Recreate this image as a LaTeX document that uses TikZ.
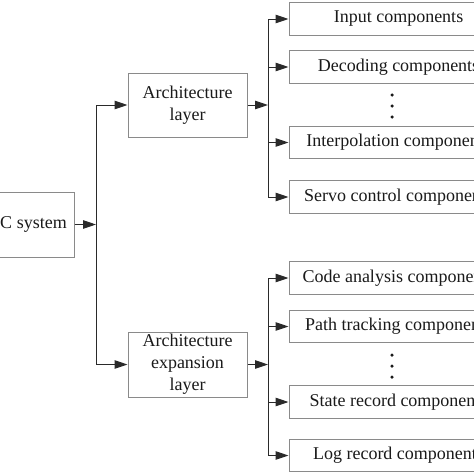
\documentclass[tikz,border=0pt]{standalone}
\usepackage{fontspec}
\setmainfont{Liberation Serif}
\usetikzlibrary{arrows.meta}
\definecolor{boxgray}{HTML}{8A8A8A}
\definecolor{linegray}{HTML}{2A2A2A}
\definecolor{txt}{HTML}{1A1A1A}
\begin{document}
\begin{tikzpicture}[x=1pt,y=-1pt,
  box/.style={draw=boxgray,line width=1pt,fill=white,inner sep=0pt,align=center,
    text=txt,font=\fontsize{18}{22}\selectfont},
  comp/.style={box,minimum width=219pt,minimum height=32.5pt},
  conn/.style={draw=linegray,line width=1pt},
  arr/.style={conn,-{Triangle[length=13pt,width=8.5pt]}},
  dotc/.style={fill=txt,circle,inner sep=0pt,minimum size=3.5pt}]
\useasboundingbox (0,0) rectangle (474,474);
\clip (0,0) rectangle (474,474);
% main nodes
\node[box,minimum width=106pt,minimum height=65pt] (cnc) at (21,224.5) {CNC system};
\node[box,minimum width=119pt,minimum height=64pt] (arch) at (187.5,105) {Architecture\\layer};
\node[box,minimum width=119pt,minimum height=65pt] (exp) at (187.5,364.5) {Architecture\\expansion\\layer};
% components
\node[comp] (c1) at (398.5,19) {Input components};
\node[comp] (c2) at (398.5,67) {Decoding components};
\node[comp] (c3) at (398.5,142.5) {Interpolation components};
\node[comp] (c4) at (398.5,197) {Servo control components};
\node[comp] (c5) at (398.5,278) {Code analysis components};
\node[comp] (c6) at (398.5,326.5) {Path tracking components};
\node[comp] (c7) at (398.5,402) {State record components};
\node[comp] (c8) at (398.5,455.5) {Log record components};
% dots
\node[dotc] (d1) at (392,95) {};
\node[dotc] (d2) at (392,106) {};
\node[dotc] (d3) at (392,117) {};
\node[dotc] (d4) at (392,355) {};
\node[dotc] (d5) at (392,366) {};
\node[dotc] (d6) at (392,377) {};
% junction coordinates
\coordinate (ja) at (96,0);
\coordinate (jb) at (268,0);
% left tree
\draw[arr] (cnc.east) -- (cnc.east -| ja);
\draw[conn] (arch.west -| ja) -- (exp.west -| ja);
\draw[arr] (arch.west -| ja) -- (arch.west);
\draw[arr] (exp.west -| ja) -- (exp.west);
% upper right tree
\draw[arr] (arch.east) -- (arch.east -| jb);
\draw[conn] (c1.west -| jb) -- (c4.west -| jb);
\foreach \n in {c1,c2,c3,c4}{\draw[arr] (\n.west -| jb) -- (\n.west);}
% lower right tree
\draw[arr] (exp.east) -- (exp.east -| jb);
\draw[conn] (c5.west -| jb) -- (c8.west -| jb);
\foreach \n in {c5,c6,c7,c8}{\draw[arr] (\n.west -| jb) -- (\n.west);}
\end{tikzpicture}
\end{document}
